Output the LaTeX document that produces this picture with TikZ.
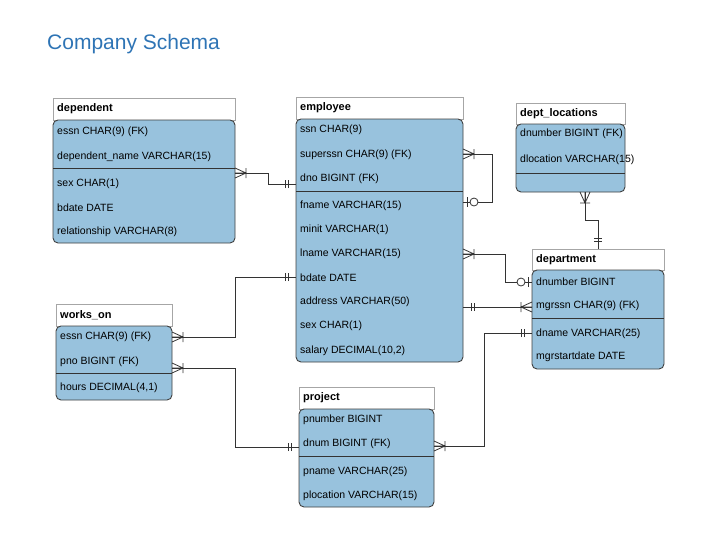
\documentclass[tikz,border=0pt]{standalone}
\usepackage{fontspec}
\setmainfont{Liberation Sans}
\definecolor{tb}{RGB}{152,194,221}
\definecolor{ttl}{RGB}{46,116,181}
\tikzset{
  head/.style={draw=black!35,fill=white,line width=0.6pt},
  body/.style={draw=black!75,fill=tb,rounded corners=5pt,line width=0.9pt},
  sep/.style={draw=black!80,line width=0.8pt},
  row/.style={anchor=west,font=\fontsize{10.5}{12}\selectfont,inner sep=0pt},
  tname/.style={anchor=west,font=\bfseries\fontsize{11}{13}\selectfont,inner sep=0pt},
  rel/.style={draw=black!80,line width=0.8pt},
  crow/.pic={\draw[rel] (0,-5)--(11,0)--(0,5) (0,0)--(11,0) (11,-5)--(11,5);},
  one/.pic={\draw[rel] (8,-4)--(8,4) (11,-4)--(11,4);},
  zone/.pic={\draw[rel] (4,-5)--(4,5); \draw[rel,fill=white] (11,0) circle (4);}
}
\newcommand{\mktable}[8]{% name, x1, x2, ytop, yhead, ybot, ysep, title
  \fill[head] (#2,#4) rectangle (#3,#5);
  \node[tname] (#1) at (#2+4,{(#4+#5)/2}) {#8};
  \path[body] (#2,#5) rectangle (#3,#6);
  \draw[sep] (#2,#7) -- (#3,#7);
}
\begin{document}
\begin{tikzpicture}[x=1pt,y=-1pt]
\useasboundingbox (0,0) rectangle (703,550);
\node[anchor=west,text=ttl,font=\fontsize{21}{24}\selectfont,inner sep=0pt] (title) at (47,44) {Company Schema};

% dependent
\mktable{dep}{53}{235}{98}{120}{243}{168}{dependent}
\foreach \t/\y [count=\i] in {essn CHAR(9) (FK)/132,dependent\_name VARCHAR(15)/157,sex CHAR(1)/184,bdate DATE/208,relationship VARCHAR(8)/232}
  \node[row] (dep\i) at (57,\y) {\t};
% employee
\mktable{emp}{296}{463}{97}{119}{362}{191}{employee}
\foreach \t/\y [count=\i] in {ssn CHAR(9)/130,superssn CHAR(9) (FK)/155,dno BIGINT (FK)/179,fname VARCHAR(15)/206,minit VARCHAR(1)/230,lname VARCHAR(15)/254,bdate DATE/278,address VARCHAR(50)/302,sex CHAR(1)/326,salary DECIMAL(10{,}2)/351}
  \node[row] (emp\i) at (300,\y) {\t};
% dept_locations
\mktable{dl}{516}{625}{103}{124}{192}{173}{dept\_locations}
\foreach \t/\y [count=\i] in {dnumber BIGINT (FK)/134,dlocation VARCHAR(15)/160}
  \node[row] (dl\i) at (520,\y) {\t};
% department
\mktable{dpt}{532}{664}{249}{270}{369}{318}{department}
\foreach \t/\y [count=\i] in {dnumber BIGINT/282,mgrssn CHAR(9) (FK)/306,dname VARCHAR(25)/334,mgrstartdate DATE/357}
  \node[row] (dpt\i) at (536,\y) {\t};
% works_on
\mktable{wo}{56}{172}{304}{326}{400}{373}{works\_on}
\foreach \t/\y [count=\i] in {essn CHAR(9) (FK)/337,pno BIGINT (FK)/362,hours DECIMAL(4{,}1)/388}
  \node[row] (wo\i) at (60,\y) {\t};
% project
\mktable{pr}{299}{434}{387}{409}{507}{456}{project}
\foreach \t/\y [count=\i] in {pnumber BIGINT/420,dnum BIGINT (FK)/444,pname VARCHAR(25)/472,plocation VARCHAR(15)/496}
  \node[row] (pr\i) at (303,\y) {\t};

% endpoints
\coordinate (a1) at (235,173); \coordinate (a2) at (296,184);
\coordinate (b1) at (463,154); \coordinate (b2) at (463,202);
\coordinate (c1) at (585,192); \coordinate (c2) at (598,249);
\coordinate (d1) at (463,254); \coordinate (d2) at (532,282);
\coordinate (e1) at (463,307); \coordinate (e2) at (532,307);
\coordinate (f1) at (532,333); \coordinate (f2) at (434,446);
\coordinate (g1) at (172,337); \coordinate (g2) at (296,277);
\coordinate (h1) at (172,368); \coordinate (h2) at (299,447);

\draw[rel] (a1) -- ++(33,0) |- (a2);
\pic at (a1) {crow}; \pic[rotate=180] at (a2) {one};
\draw[rel] (b1) -- ++(29,0) |- (b2);
\pic at (b1) {crow}; \pic at (b2) {zone};
\draw[rel] (c1) -- (585,220) -| (c2);
\pic[rotate=-90] at (c1) {crow}; \pic[rotate=90] at (c2) {one};
\draw[rel] (d1) -- (505,254) |- (d2);
\pic at (d1) {crow}; \pic[rotate=180] at (d2) {zone};
\draw[rel] (e1) -- (e2);
\pic at (e1) {one}; \pic[rotate=180] at (e2) {crow};
\draw[rel] (f1) -- (484,333) |- (f2);
\pic[rotate=180] at (f1) {one}; \pic at (f2) {crow};
\draw[rel] (g1) -- (235,337) |- (g2);
\pic at (g1) {crow}; \pic[rotate=180] at (g2) {one};
\draw[rel] (h1) -- (235,368) |- (h2);
\pic at (h1) {crow}; \pic[rotate=180] at (h2) {one};
\end{tikzpicture}
\end{document}
